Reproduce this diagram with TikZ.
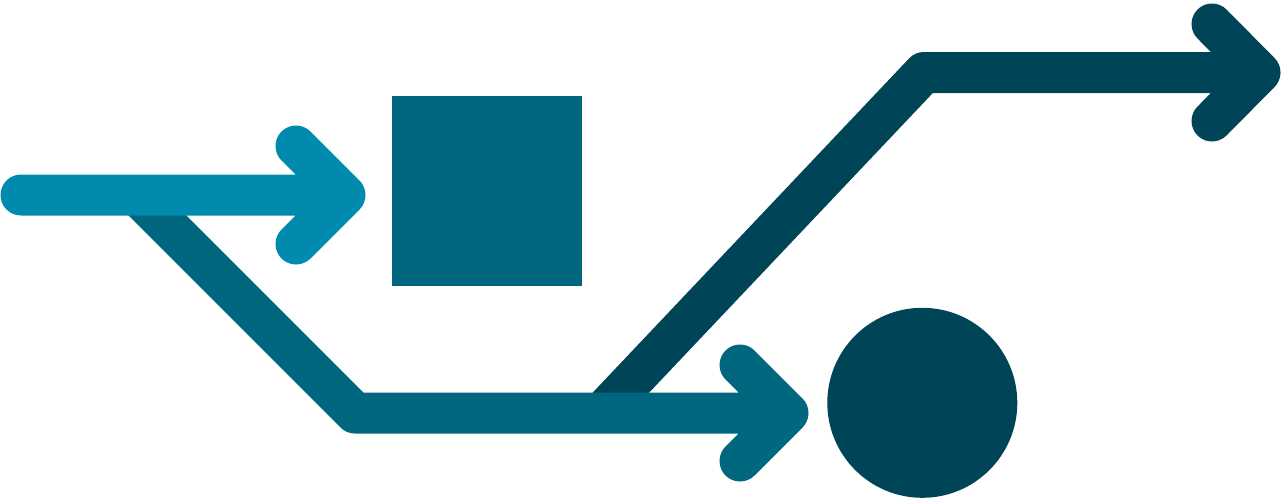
\documentclass[tikz,border=0pt]{standalone}
\definecolor{clight}{RGB}{0,138,173}
\definecolor{cmid}{RGB}{0,103,127}
\definecolor{cdark}{RGB}{0,69,87}
\begin{document}
\begin{tikzpicture}[x=1pt,y=-1pt,
  arrowline/.style={line width=41pt, line cap=round, line join=round},
  shapebox/.style={fill=cmid, draw=none, minimum size=190pt, inner sep=0pt},
  shapedot/.style={circle, fill=cdark, draw=none, minimum size=190pt, inner sep=0pt}]
\useasboundingbox (0,0) rectangle (1281,501);
% shapes
\node[shapebox] (sq) at (487,191.3) {};
\node[shapedot] (ci) at (922.3,402.8) {};
% coordinates
\coordinate (d0) at (601.6,413);
\coordinate (d1) at (924,72.5);
\coordinate (d2) at (1260,72.5);
\coordinate (da) at (1212,24);
\coordinate (db) at (1212,121);
\coordinate (m0) at (137,195);
\coordinate (m1) at (355,413);
\coordinate (m2) at (788,413);
\coordinate (ma) at (740,365);
\coordinate (mb) at (740,461);
\coordinate (t0) at (21,195);
\coordinate (t1) at (345,195);
\coordinate (ta) at (296,146);
\coordinate (tb) at (296,244);
% dark arrow (its start is hidden under the middle arrow)
\begin{scope}
  \clip (0,0) rectangle (1281,410);
  \draw[arrowline, cdark] (d0) -- (d1) -- (d2) (da) -- (d2) -- (db);
\end{scope}
% middle arrow (its start is hidden under the top arrow)
\begin{scope}
  \clip (0,200) rectangle (1281,501);
  \draw[arrowline, cmid] (m0) -- (m1) -- (m2) (ma) -- (m2) -- (mb);
\end{scope}
% top arrow
\draw[arrowline, clight] (t0) -- (t1) (ta) -- (t1) -- (tb);
\end{tikzpicture}
\end{document}
